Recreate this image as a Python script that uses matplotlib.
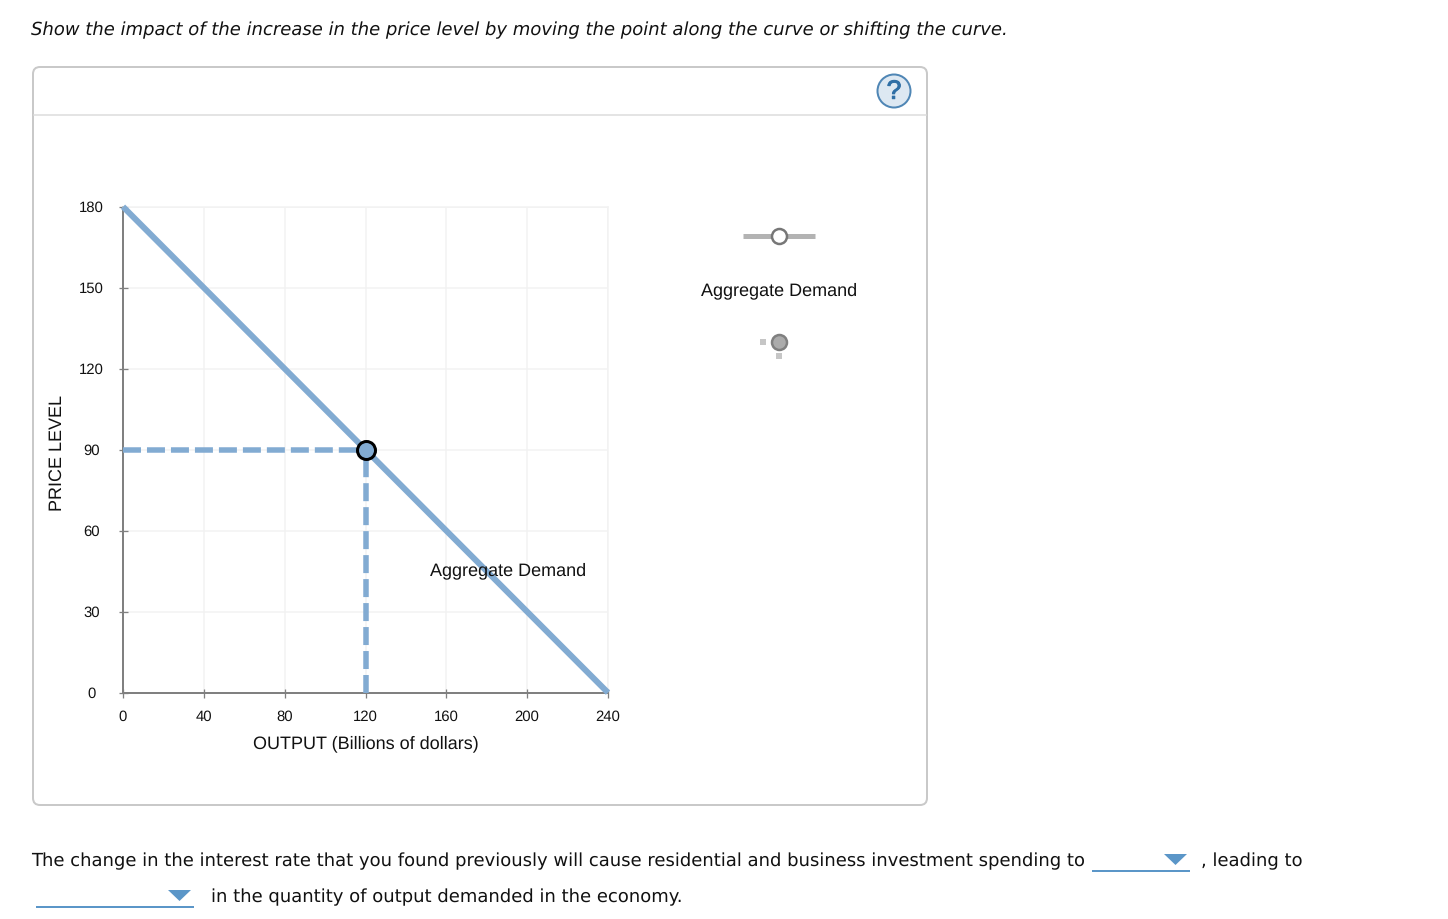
import matplotlib
matplotlib.use('Agg')
import matplotlib.pyplot as plt
import matplotlib.patheffects as pe
from matplotlib.patches import FancyBboxPatch, Circle, Polygon, Rectangle

plt.rcParams['text.hinting'] = 'none'

# data
ad_output = [0, 240]
ad_price = [180, 0]
point_output = 120
point_price = 90
x_ticks = [0, 40, 80, 120, 160, 200, 240]
y_ticks = [0, 30, 60, 90, 120, 150, 180]

question = 'Show the impact of the increase in the price level by moving the point along the curve or shifting the curve.'
answer1 = 'The change in the interest rate that you found previously will cause residential and business investment spending to'
answer2 = ', leading to'
answer3 = 'in the quantity of output demanded in the economy.'

W, H = 1448, 920
PX = 0.72  # points per pixel at dpi 100
SANS = ['Liberation Sans', 'DejaVu Sans']
BLUE = '#82abd2'
BODY = 13.0
LABEL = 12.95

fig = plt.figure(figsize=(W/100, H/100), dpi=100, facecolor='white')

#==========================================================
# page layer, in pixels
#==========================================================
bg = fig.add_axes([0, 0, 1, 1], zorder=1)
bg.set_xlim(0, W)
bg.set_ylim(H-1, -1)
bg.axis('off')

bg.text(31, 29.5, question, fontsize=BODY, style='oblique', family='DejaVu Sans',
        va='center', ha='left', color='#111111')

bg.add_patch(FancyBboxPatch((33, 67), 894, 738, boxstyle='round,pad=0,rounding_size=7',
                            fc='white', ec='#c9c9c9', lw=2*PX))
bg.plot([34, 926], [115, 115], color='#dcdcdc', lw=1.5*PX)

# help icon
bg.add_patch(Circle((894, 91), 16.5, fc='#dde8f2', ec='#4f86b5', lw=2*PX))
q = bg.text(894, 92, '?', fontsize=19, family=SANS, color='#2f6fa6', ha='center', va='center')
q.set_path_effects([pe.withStroke(linewidth=0.7, foreground='#2f6fa6')])

# tool palette
bg.plot([743, 815], [236.5, 236.5], color='#b3b3b3', lw=5*PX, solid_capstyle='butt')
bg.plot([779], [236.5], 'o', ms=15*PX, mfc='white', mec='#777777', mew=2.5*PX)
bg.text(779, 289.5, 'Aggregate Demand', fontsize=LABEL, family=SANS, ha='center', va='center', color='#111111')
bg.plot([779], [342], 'o', ms=15*PX, mfc='#ababab', mec='#808080', mew=2.5*PX)
bg.add_patch(Rectangle((759.5, 338.5), 6, 6, fc='#c6c6c6', ec='none'))
bg.add_patch(Rectangle((776, 352.5), 6, 6, fc='#c6c6c6', ec='none'))

# answer text and dropdowns
bg.text(31, 860, answer1, fontsize=BODY, family='DejaVu Sans', va='center', ha='left', color='#111111')
bg.text(1201, 860, answer2, fontsize=BODY, family='DejaVu Sans', va='center', ha='left', color='#111111')
bg.text(211, 896, answer3, fontsize=BODY, family='DejaVu Sans', va='center', ha='left', color='#111111')
bg.plot([1092, 1190], [871, 871], color='#5b96c8', lw=2*PX, solid_capstyle='butt')
bg.plot([36, 194], [907, 907], color='#5b96c8', lw=2*PX, solid_capstyle='butt')
bg.add_patch(Polygon([(1164, 854), (1187, 854), (1175.5, 865)], fc='#5b96c8', ec='none'))
bg.add_patch(Polygon([(168, 890), (191, 890), (179.5, 901)], fc='#5b96c8', ec='none'))

#==========================================================
# chart
#==========================================================
ax = fig.add_axes([123/W, 1-693.7/H, (608-123)/W, (693-207)/H], zorder=2)
ax.patch.set_alpha(0)
ax.set_xlim(0, 240)
ax.set_ylim(0, 180)

ax.set_xticks(x_ticks)
ax.set_yticks(y_ticks)
ax.grid(True, color='#f2f2f2', lw=1.5*PX, zorder=0)
ax.set_axisbelow(True)
for s in ['top', 'right']:
    ax.spines[s].set_color('#f2f2f2')
    ax.spines[s].set_linewidth(1.5*PX)
for s in ['left', 'bottom']:
    ax.spines[s].set_color('#808080')
    ax.spines[s].set_linewidth(2*PX)
ax.tick_params(axis='x', direction='inout', length=9*PX, width=1.3*PX, color='#808080', labelsize=10.7, pad=11.5*PX)
ax.tick_params(axis='y', direction='inout', length=9*PX, width=1.3*PX, color='#808080', labelsize=10.7, pad=27*PX)
for t in ax.get_xticklabels() + ax.get_yticklabels():
    t.set_family(SANS)
    t.set_color('#111111')
for t in ax.get_yticklabels():
    t.set_ha('center')
    t.set_va('center')

ax.set_xlabel('OUTPUT (Billions of dollars)', fontsize=LABEL, family=SANS, color='#111111', labelpad=12*PX)
ax.set_ylabel('PRICE LEVEL', fontsize=LABEL, family=SANS, color='#111111')
ax.yaxis.set_label_coords((66-123)/(608-123), (693-452)/(693-207))

ax.plot(ad_output, ad_price, color=BLUE, lw=6*PX, solid_capstyle='butt', clip_on=False, zorder=4)
ax.plot([0, point_output], [point_price, point_price], color=BLUE, lw=5.5*PX,
        dashes=(3.27, 1.09), dash_capstyle='butt', clip_on=False, zorder=3)
ax.plot([point_output, point_output], [0, point_price], color=BLUE, lw=5.5*PX,
        dashes=(3.27, 1.09), dash_capstyle='butt', clip_on=False, zorder=3)
ax.plot([point_output], [point_price], 'o', ms=18*PX, mfc=BLUE, mec='black', mew=3*PX, clip_on=False, zorder=5)
ax.text(190.5, 45.5, 'Aggregate Demand', fontsize=LABEL, family=SANS, ha='center', va='center', color='#111111',
        zorder=6)

plt.savefig('out.png', dpi=100)
